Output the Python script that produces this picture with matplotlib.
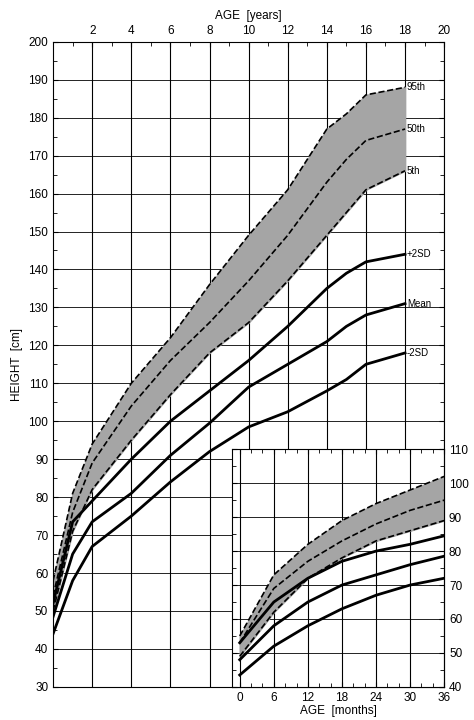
import matplotlib
matplotlib.use("Agg")
import matplotlib.pyplot as plt

years = [0, 1, 2, 4, 6, 8, 10, 12, 14, 15, 16, 18]
p95 = [58, 81, 94, 110, 122, 136, 149, 161, 177, 181, 186, 188]
p50 = [54, 76, 89, 104, 116, 126, 137, 149, 163, 169, 174, 177]
p5 = [50, 71, 82, 95, 107, 118, 126, 137, 149, 155, 161, 166]
sd_p2 = [52, 73.5, 79, 90, 100, 108, 116, 125, 135, 139, 142, 144]
sd_mean = [48.5, 65, 73.5, 81, 91, 99.5, 109, 115, 121, 125, 128, 131]
sd_m2 = [44, 58, 67, 75, 84, 92, 98.5, 102.5, 108, 111, 115, 118]

months = [0, 6, 12, 18, 24, 30, 36]
m95 = [55, 73, 82, 89, 94, 98, 102]
m50 = [53, 69, 77, 83, 88, 92, 95]
m5 = [49, 62, 72, 78, 83, 86, 89]
m_p2 = [53, 65, 72, 77, 80, 82, 84.5]
m_mean = [48, 58, 65, 70, 73, 76, 78.5]
m_m2 = [43.5, 52, 58, 63, 67, 70, 72]

labels = ["95th", "50th", "5th", "+2SD", "Mean", "-2SD"]

plt.rcParams['font.family'] = 'Liberation Sans'
fig = plt.figure(figsize=(4.74, 7.2), dpi=100)
ax = fig.add_axes([0.112, 0.046, 0.825, 0.896])
ax.set_xlim(0, 20)
ax.set_ylim(30, 200)
for x in range(2, 21, 2):
    ax.axvline(x, color='black', lw=0.8, zorder=1)
for y in range(40, 200, 10):
    ax.axhline(y, color='black', lw=0.6, zorder=1)
ax.fill_between(years, p5, p95, color='#a5a5a5', zorder=2)
for s in (p95, p50, p5):
    ax.plot(years, s, 'k--', lw=1.2, zorder=3)
for s in (sd_p2, sd_mean, sd_m2):
    ax.plot(years, s, 'k-', lw=2, zorder=3)
for s, l in zip((p95, p50, p5, sd_p2, sd_mean, sd_m2), labels):
    ax.text(18.1, s[-1], l, fontsize=7, va='center', ha='left', zorder=4)
ax.xaxis.tick_top()
ax.xaxis.set_label_position('top')
ax.set_xticks(range(2, 21, 2))
ax.set_xticks(range(1, 20, 2), minor=True)
ax.set_yticks(range(30, 201, 10))
ax.set_yticks(range(35, 200, 10), minor=True)
ax.tick_params(which='both', direction='in', labelsize=8.5, top=True, right=True, bottom=False)
ax.tick_params(which='minor', length=3)
ax.set_xlabel('AGE  [years]', fontsize=8.5)
ax.set_ylabel('HEIGHT  [cm]', fontsize=8.5)

ins = fig.add_axes([0.489, 0.046, 0.448, 0.33])
ins.set_xlim(-1.4, 36)
ins.set_ylim(40, 110)
for x in range(0, 37, 6):
    ins.axvline(x, color='black', lw=0.8, zorder=1)
for y in range(50, 111, 10):
    ins.axhline(y, color='black', lw=0.6, zorder=1)
ins.fill_between(months, m5, m95, color='#a5a5a5', zorder=2)
for s in (m95, m50, m5):
    ins.plot(months, s, 'k--', lw=1.2, zorder=3)
for s in (m_p2, m_mean, m_m2):
    ins.plot(months, s, 'k-', lw=2, zorder=3)
ins.yaxis.tick_right()
ins.set_xticks(range(0, 37, 6))
ins.set_xticks(range(2, 36, 2), minor=True)
ins.set_yticks(range(40, 111, 10))
ins.set_yticks(range(45, 110, 10), minor=True)
ins.tick_params(which='both', direction='in', labelsize=8.5, left=True, right=True, top=True)
ins.tick_params(which='minor', length=3)
ins.set_xlabel('AGE  [months]', fontsize=8.5, labelpad=1)
fig.savefig('out.png', dpi=100)
